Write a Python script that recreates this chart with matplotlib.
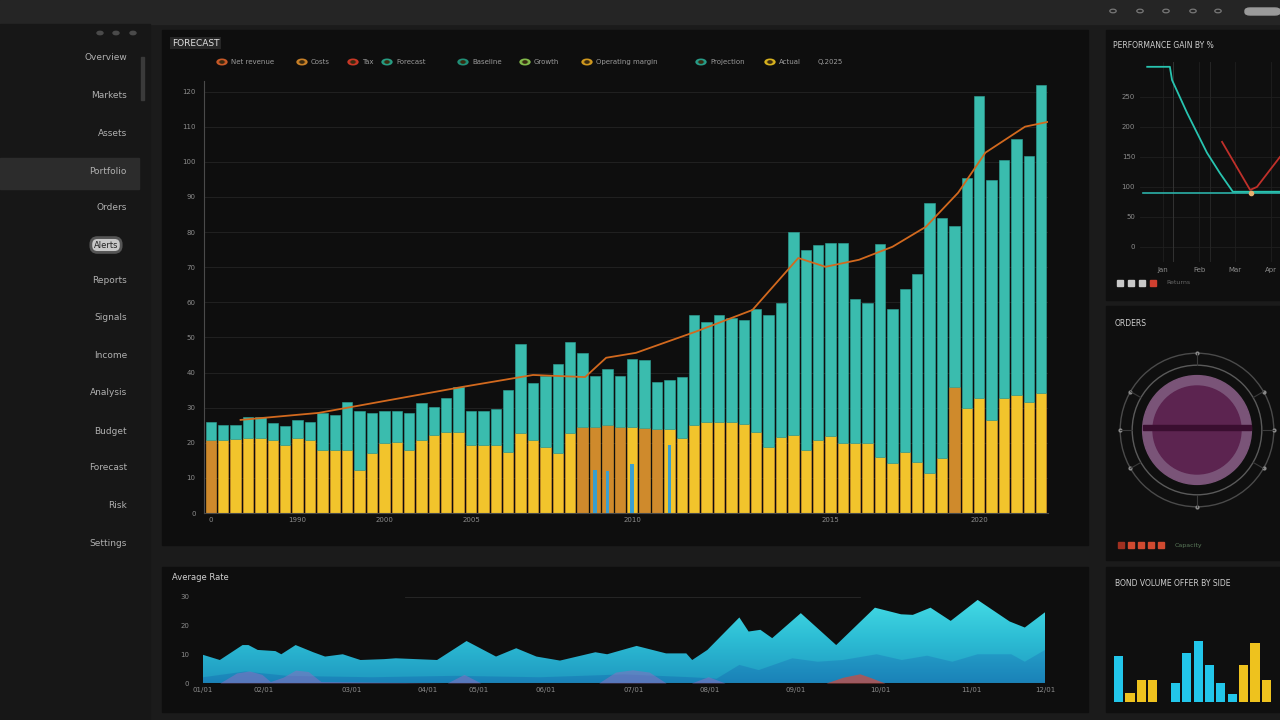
import numpy as np
import matplotlib
matplotlib.use("Agg")
import matplotlib.pyplot as plt
from matplotlib.patches import Rectangle, FancyBboxPatch, Circle
from matplotlib.colors import LinearSegmentedColormap

W, H = 1280, 720

# ---- main stacked bar chart ----
bar_total = [26, 25, 25, 27.4, 27.2, 25.6, 24.8, 26.5, 26, 28.5,
             28, 31.7, 28.9, 28.5, 28.9, 28.9, 28.5, 31.4, 30.3, 32.7,
             36, 29.1, 28.9, 29.5, 34.9, 48.1, 37, 39, 42.4, 48.8,
             45.6, 39, 41, 39, 43.9, 43.7, 37.4, 38, 38.8, 56.4,
             54.5, 56.4, 55.5, 54.9, 58, 56.4, 59.9, 80.1, 74.9, 76.4,
             77, 77, 61, 59.8, 76.6, 58, 63.8, 68, 88.3, 84,
             81.6, 95.4, 118.6, 94.9, 100.4, 106.5, 101.7, 121.9]
bar_lower = [20.8, 20.8, 21, 21.3, 21.3, 20.8, 19.4, 21.3, 20.8, 18,
             18, 18, 12.3, 17, 20, 20.3, 18, 20.8, 22.2, 23.2,
             23.2, 19.4, 19.4, 19.4, 17.5, 22.8, 20.8, 18.9, 17, 22.8,
             24.6, 24.6, 25, 24.6, 24.6, 24.2, 24, 24, 21.4, 25,
             26, 26, 26, 25.2, 23.2, 18.9, 21.7, 22.2, 18, 20.8,
             22, 20, 20, 20, 16, 14.2, 17.5, 14.5, 11.4, 15.6,
             36, 29.9, 32.7, 26.5, 32.7, 33.6, 31.7, 34.3]
amber_bars = [0, 30, 31, 32, 33, 35, 36, 60]
thin_idx = [31, 32, 34, 37]
thin_val = [12.3, 12.0, 14.0, 19.4]
trend_idx = [2.4, 8.7, 20.3, 26, 30.2, 31.9, 34.3, 39.1, 43.7, 47.4,
             49.6, 52.3, 55, 57.7, 60.3, 62.5, 65.7, 67.6]
trend_val = [26.5, 28.5, 35.9, 39.3, 38.7, 44.2, 45.6, 51.6, 57.8, 72.6,
             70.1, 72.1, 75.8, 81.5, 91.2, 102.6, 110, 111.4]
main_xticks = [0, 7, 14, 21, 34, 50, 62]
main_xlabels = ["0", "1990", "2000", "2005", "2010", "2015", "2020"]
legend_labels = ["Net revenue", "Costs", "Tax", "Forecast", "Baseline",
                 "Growth", "Operating margin", "Projection", "Actual"]
legend_colors = ["#d8602a", "#d88a2a", "#d83c28", "#2aa88c", "#239a80",
                 "#8cc850", "#e0a420", "#2aa892", "#e8c020"]

# ---- bottom area chart ----
area_x = [0, 2.0, 4.7, 5.4, 6.5, 8.6, 9.3, 11.0, 13.1, 14.5, 16.6, 18.7,
          21.5, 22.9, 27.8, 31.3, 34.8, 37.2, 39.6, 42.4, 46.6, 48.0,
          51.5, 55.0, 57.4, 58.1, 59.9, 63.7, 64.8, 66.2, 67.6, 71.0,
          75.2, 79.8, 82.9, 84.3, 86.4, 88.8, 92.0, 95.8, 97.6, 100]
area_top = [9.8, 8.0, 13.2, 13.2, 11.5, 11.1, 10.0, 13.2, 10.7, 9.2, 10.0, 8.0,
            8.3, 8.6, 8.0, 14.6, 9.2, 12.1, 9.2, 7.8, 10.7, 10.0,
            12.9, 10.3, 10.3, 8.0, 11.5, 22.8, 17.9, 18.5, 15.6, 24.3,
            13.2, 26.2, 23.9, 23.7, 26.2, 21.6, 28.9, 21.4, 19.3, 24.6]
mid_x = [0, 5, 10, 20, 30, 40, 50, 58, 61, 63.7, 66, 70, 73, 76, 80, 83,
         86, 89, 92, 96, 97.6, 100]
mid_val = [2, 4, 2.5, 2, 2.5, 2, 3, 2, 1.5, 6.3, 4.5, 8.6, 7.4, 8.0, 10.0, 8.0,
           9.5, 7.4, 10, 10, 7.4, 11.5]
purple_x = [2, 4, 5.5, 7, 8, 9.5, 11, 12.5, 14, 29, 31, 33, 47, 49, 51, 53, 55, 58, 60, 62]
purple_val = [0, 3.5, 4.2, 3, 0.5, 2, 4.5, 4, 0.5, 0, 3, 0, 0, 3.8, 4.6, 3.8, 0, 0, 2.2, 0]
red_x = [74, 76, 78, 79, 81]
red_val = [0, 2, 3.2, 2.2, 0]
area_xticks = [0, 7.2, 17.7, 26.7, 32.7, 40.7, 51.2, 60.2, 70.4, 80.5, 91.3, 100]
area_xlabels = ["01/01", "02/01", "03/01", "04/01", "05/01", "06/01",
                "07/01", "08/01", "09/01", "10/01", "11/01", "12/01"]

# ---- right top line chart ----
drop_x = [0.56, 1.19, 1.25, 1.67, 2.22, 2.58, 2.94, 4.25]
drop_y = [300, 300, 278, 223, 157, 123, 92, 92]
rebound_x = [2.64, 3.42, 3.61, 4.25]
rebound_y = [175, 95, 100, 150]
base_level = 90
line_xlabels = ["Jan", "Feb", "Mar", "Apr"]

# ---- bottom right bars ----
small_vals = [46, 9, 22, 22, 0, 19, 49, 61, 37, 19, 8, 37, 59, 22]
small_kind = ["c", "y", "y", "y", "c", "c", "c", "c", "c", "c", "c", "y", "y", "y"]

side_items = ["Overview", "Markets", "Assets", "Portfolio", "Orders", "Alerts",
              "Reports", "Signals", "Income", "Analysis", "Budget", "Forecast",
              "Risk", "Settings"]

TEAL = "#3abcae"
YELLOW = "#f2c42c"
AMBER = "#cf8a2c"
TXT = "#8c8c8c"

fig = plt.figure(figsize=(12.8, 7.2), dpi=100, facecolor="#1b1b1b")


def px_axes(x0, y0, x1, y1):
    return fig.add_axes([x0 / W, 1 - y1 / H, (x1 - x0) / W, (y1 - y0) / H])


def rect(x0, y0, x1, y1, color, z=-5, rounded=False):
    if rounded:
        p = FancyBboxPatch((x0 / W, 1 - y1 / H), (x1 - x0) / W, (y1 - y0) / H,
                           boxstyle="round,pad=0,rounding_size=0.004",
                           transform=fig.transFigure, color=color, zorder=z)
    else:
        p = Rectangle((x0 / W, 1 - y1 / H), (x1 - x0) / W, (y1 - y0) / H,
                      transform=fig.transFigure, color=color, zorder=z)
    fig.patches.append(p)


def ftext(x, y, s, **kw):
    kw.setdefault("color", TXT)
    kw.setdefault("fontsize", 6)
    kw.setdefault("va", "center")
    fig.text(x / W, 1 - y / H, s, **kw)


def dark(ax):
    ax.set_facecolor("none")
    for s in ax.spines.values():
        s.set_visible(False)
    ax.tick_params(colors=TXT, labelsize=5, length=0)


# background blocks
rect(0, 0, W, 24, "#252525")
rect(0, 24, 150, H, "#171717")
rect(0, 158, 139, 189, "#2c2c2c")
rect(141, 57, 144, 100, "#3a3a3a")
rect(162, 30, 1088, 545, "#0e0e0e")
rect(162, 567, 1088, 712, "#0e0e0e")
rect(1106, 30, W, 300, "#0f0f0f")
rect(1106, 306, W, 560, "#0f0f0f")
rect(1106, 567, W, 712, "#0f0f0f")

# top bar icons
for xi in [1113, 1140, 1166, 1193, 1218]:
    fig.patches.append(Circle((xi / W, 1 - 11 / H), 3.2 / W, transform=fig.transFigure,
                              fill=False, ec="#777", lw=0.9))
rect(1245, 8, 1280, 15, "#9a9a9a", z=1, rounded=True)
for xi in [100, 116, 133]:
    fig.patches.append(Circle((xi / W, 1 - 33 / H), 3 / W, transform=fig.transFigure,
                              color="#4a4a4a"))

# sidebar
side_y = [57, 95, 133, 171, 208, 245, 281, 318, 355, 393, 431, 468, 506, 544]
for i, (yy, name) in enumerate(zip(side_y, side_items)):
    if i == 5:
        ftext(106, yy, name, ha="center", fontsize=6, color="#222",
              bbox=dict(boxstyle="round,pad=0.35,rounding_size=0.8", fc="#c8c8c8", ec="#555", lw=2))
    else:
        ftext(127, yy, name, ha="right", fontsize=6.5, color="#b0b0b0")

# ---- main chart ----
ax = px_axes(204, 81, 1048, 513)
dark(ax)
x = np.arange(len(bar_total))
lower = np.array(bar_lower)
upper = np.array(bar_total) - lower
low_colors = [AMBER if i in amber_bars else YELLOW for i in x]
ax.bar(x, lower, width=0.84, color=low_colors, edgecolor="#e39a2a", lw=0.4, zorder=2)
ax.bar(x, upper, bottom=lower, width=0.84, color=TEAL, edgecolor="#2ea598", lw=0.4, zorder=2)
ax.bar(thin_idx, thin_val, width=0.3, color="#3a9fd0", zorder=3)
ax.plot(trend_idx, trend_val, color="#d2691e", lw=1.3, zorder=4)
ax.set_xlim(-0.55, len(bar_total) - 0.45)
ax.set_ylim(0, 123)
ax.set_yticks(range(0, 121, 10))
ax.set_xticks(main_xticks)
ax.set_xticklabels(main_xlabels)
ax.grid(axis="y", color="#242424", lw=0.6, zorder=0)
ax.spines["left"].set_visible(True)
ax.spines["left"].set_color("#4a4a4a")
ax.spines["bottom"].set_visible(True)
ax.spines["bottom"].set_color("#4a4a4a")
ax.tick_params(axis="y", pad=6)
ax.tick_params(axis="x", pad=3)

ftext(172, 43, "FORECAST", fontsize=6.5, color="#e0e0e0",
      bbox=dict(boxstyle="square,pad=0.2", fc="#262626", ec="none"))

# legend row
lx = [222, 302, 353, 387, 463, 525, 587, 701, 770]
for xx, lab, col in zip(lx, legend_labels, legend_colors):
    fig.patches.append(Circle((xx / W, 1 - 62 / H), 5 / W, transform=fig.transFigure,
                              color=col, alpha=0.85))
    fig.patches.append(Circle((xx / W, 1 - 62 / H), 2 / W, transform=fig.transFigure,
                              color="#3a2a10"))
    ftext(xx + 9, 62, lab, fontsize=5, color="#9a9a9a")
ftext(818, 62, "Q.2025", fontsize=5, color="#9a9a9a")

# ---- right top line chart ----
ax2 = px_axes(1140, 62, W, 262)
dark(ax2)
ax2.set_xlim(0.36, 4.25)
ax2.set_ylim(-25, 308)
ax2.set_yticks(range(0, 251, 50))
ax2.set_xticks([1, 2, 3, 4])
ax2.set_xticklabels(line_xlabels)
ax2.grid(color="#1f1f1f", lw=0.6)
ax2.axvline(1.28, color="#333", lw=0.7)
ax2.axvline(2.31, color="#262626", lw=0.7)
ax2.axhline(base_level, xmin=0.02, color="#2bb0a8", lw=1.2)
ax2.plot(drop_x, drop_y, color="#28c4b0", lw=1.3)
ax2.plot(rebound_x, rebound_y, color="#c0302a", lw=1.3)
ax2.plot([3.45], [90], "o", ms=3, color="#e8b070")
ftext(1113, 45, "PERFORMANCE GAIN BY %", fontsize=5.5, color="#cfcfcf")
for i, col in enumerate(["#c8c8c8", "#c8c8c8", "#c8c8c8", "#d04030"]):
    rect(1117 + i * 11, 280, 1123 + i * 11, 286, col, z=1)
ftext(1166, 283, "Returns", fontsize=4.5, color="#666")

# ---- gauge ----
axg = px_axes(1117, 350, 1277, 510)
axg.set_xlim(-1, 1)
axg.set_ylim(-1, 1)
axg.set_aspect("equal")
axg.axis("off")
axg.add_patch(Circle((0, 0), 0.96, fill=False, ec="#4a4a4a", lw=1))
axg.add_patch(Circle((0, 0), 0.81, fill=False, ec="#5a5a5a", lw=1))
axg.add_patch(Circle((0, 0), 0.68, color="#7a5478"))
axg.add_patch(Circle((0, 0), 0.55, color="#5c2450"))
axg.add_patch(Rectangle((-0.68, 0.0), 1.36, 0.06, color="#3a0e30"))
for ang in np.deg2rad([90, 30, 150, 210, 270, 330, 0, 180]):
    axg.plot(0.96 * np.cos(ang), 0.96 * np.sin(ang), "o", ms=2, color="#8a8a8a")
    axg.plot([0.81 * np.cos(ang), 0.96 * np.cos(ang)],
             [0.81 * np.sin(ang), 0.96 * np.sin(ang)], color="#3a3a3a", lw=0.8)
ftext(1115, 323, "ORDERS", fontsize=5.5, color="#cfcfcf")
for i in range(5):
    rect(1118 + i * 10, 542, 1124 + i * 10, 548, "#d04a30" if i else "#a03020", z=1)
ftext(1175, 545, "Capacity", fontsize=4.5, color="#5a7a5a")

# ---- bottom area chart ----
ax3 = px_axes(203, 591, 1045, 683)
dark(ax3)
ax3.set_xlim(0, 100)
ax3.set_ylim(0, 32)
ax3.axhline(30, xmin=0.24, xmax=0.78, color="#2a2a2a", lw=0.6)
grad_top = LinearSegmentedColormap.from_list("g1", ["#1f98c0", "#2cbcd4", "#45dde6"])
grad_mid = LinearSegmentedColormap.from_list("g2", ["#1a80b8", "#249cc8"])
poly = ax3.fill_between(area_x, 0, area_top, color="none")
img = ax3.imshow(np.linspace(0, 1, 256).reshape(-1, 1), cmap=grad_top, origin="lower",
                 extent=[0, 100, 0, 30], aspect="auto", zorder=1)
img.set_clip_path(poly.get_paths()[0], transform=ax3.transData)
poly2 = ax3.fill_between(mid_x, 0, mid_val, color="none")
img2 = ax3.imshow(np.linspace(0, 1, 256).reshape(-1, 1), cmap=grad_mid, origin="lower",
                  extent=[0, 100, 0, 12], aspect="auto", zorder=2, alpha=0.9)
img2.set_clip_path(poly2.get_paths()[0], transform=ax3.transData)
ax3.fill_between(purple_x, 0, purple_val, color="#8a70c0", alpha=0.55, zorder=3, lw=0)
ax3.fill_between(red_x, 0, red_val, color="#c0504a", alpha=0.8, zorder=3, lw=0)
ax3.axhline(0, color="#5a5a5a", lw=0.8)
ax3.set_yticks([0, 10, 20, 30])
ax3.set_xticks(area_xticks)
ax3.set_xticklabels(area_xlabels)
ax3.tick_params(axis="y", pad=10)
ax3.tick_params(axis="x", pad=3)
ftext(172, 578, "Average Rate", fontsize=6, color="#d0d0d0")

# ---- bottom right bars ----
ax4 = px_axes(1113, 620, W, 702)
dark(ax4)
sx = np.arange(len(small_vals))
ax4.bar(sx, small_vals, width=0.8,
        color=["#22c6ea" if k == "c" else "#eec21e" for k in small_kind])
ax4.set_xlim(-0.5, 14.2)
ax4.set_ylim(0, 82)
ax4.set_xticks([])
ax4.set_yticks([])
ftext(1115, 583, "BOND VOLUME OFFER BY SIDE", fontsize=5.5, color="#cfcfcf")

fig.savefig("out.png", dpi=100, facecolor=fig.get_facecolor())
